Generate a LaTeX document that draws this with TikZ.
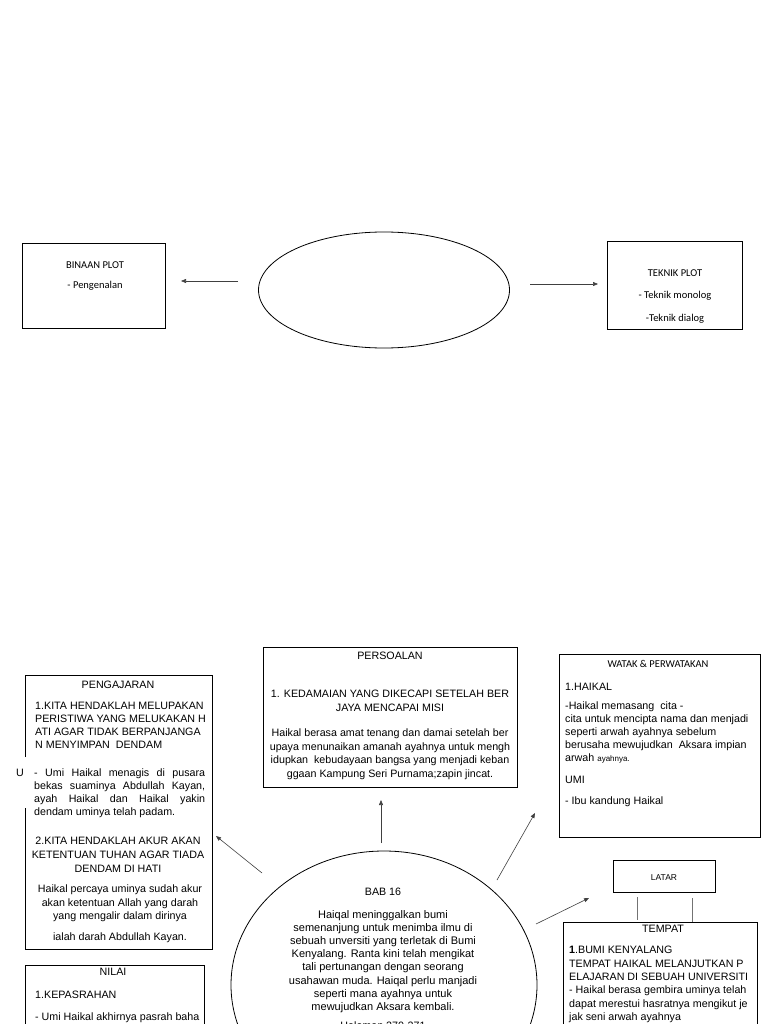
\documentclass[tikz,border=0pt]{standalone}
\usepackage{fontspec}
\setmainfont{Liberation Sans}
\newfontfamily\carl{Carlito}
\usetikzlibrary{arrows.meta,shapes.geometric}
\begin{document}
\begin{tikzpicture}[x=1pt,y=-1pt,
  box/.style={draw=black,line width=0.8pt},
  ar/.style={font=\fontsize{10.7}{13}\selectfont,inner sep=0pt},
  cb/.style={font=\carl\fontsize{10.5}{13}\selectfont,inner sep=0pt},
  conn/.style={draw=black!75,line width=0.6pt,-{Triangle[length=5pt,width=4pt]}},
  plain/.style={draw=black!55,line width=0.6pt}]
\clip (0,0) rectangle (768,1024);
\fill[white] (0,0) rectangle (768,1024);

% ---------- top part ----------
\node[box,minimum width=143pt,minimum height=85pt,anchor=north west] (binaan) at (22,243) {};
\node[cb,anchor=base] (binaanT) at (95,268.5) {BINAAN PLOT};
\node[cb,anchor=base] (binaanA) at (95,288.5) {- Pengenalan};

\node[draw,ellipse,line width=0.8pt,minimum width=251pt,minimum height=116pt] (top) at (384,290) {};

\node[box,minimum width=135pt,minimum height=88pt,anchor=north west] (teknik) at (607,241) {};
\node[cb,anchor=base] (teknikT) at (675,276.5) {TEKNIK PLOT};
\node[cb,anchor=base] (teknikA) at (675,298.5) {- Teknik monolog};
\node[cb,anchor=base] (teknikB) at (675,321.5) {-Teknik dialog};

\coordinate (l1) at (238,281);
\coordinate (l2) at (181,281);
\draw[conn] (l1) -- (l2);
\coordinate (r1) at (530,284);
\coordinate (r2) at (598,284);
\draw[conn] (r1) -- (r2);

% ---------- PENGAJARAN ----------
% (anchor=base of a multi-line node = baseline of its last line)
\draw[box] (25,757) -- (25,675) -- (212,675) -- (212,949) -- (25,949) -- (25,808);
\node[ar,anchor=base] (pgT) at (118,688.6) {PENGAJARAN};
\node[ar,anchor=base west,align=left] (pg1) at (35,748.6)
  {1.KITA HENDAKLAH MELUPAKAN\\PERISTIWA YANG MELUKAKAN H\\ATI AGAR TIDAK BERPANJANGA\\N MENYIMPAN\ \ DENDAM};
\node[ar,anchor=base west] (pgU) at (16,776.6) {U};
\node[ar,anchor=base west,align=left] (pg2) at (34,815.6)
  {\makebox[171pt][s]{- Umi Haikal menagis di pusara}\\
   \makebox[171pt][s]{bekas suaminya Abdullah Kayan,}\\
   \makebox[171pt][s]{ayah Haikal dan Haikal yakin}\\
   dendam uminya telah padam.};
\node[ar,anchor=base,align=center,font=\fontsize{10.7}{14}\selectfont] (pg3) at (118,872.6)
  {2.KITA HENDAKLAH AKUR AKAN\\KETENTUAN TUHAN AGAR TIADA\\DENDAM DI HATI};
\node[ar,anchor=base,align=center,font=\fontsize{10.7}{13.5}\selectfont] (pg4) at (120,919.5)
  {Haikal percaya uminya sudah akur\\akan ketentuan Allah yang darah\\yang mengalir dalam dirinya};
\node[ar,anchor=base] (pg5) at (120,940.5) {ialah darah Abdullah Kayan.};

% ---------- NILAI ----------
\node[box,minimum width=179pt,minimum height=80pt,anchor=north west] (nilai) at (25,965) {};
\node[ar,anchor=base] (nlT) at (113,975.6) {NILAI};
\node[ar,anchor=base west] (nl1) at (35,998.6) {1.KEPASRAHAN};
\node[ar,anchor=base west] (nl2) at (35,1020.5) {- Umi Haikal akhirnya pasrah baha};

% ---------- PERSOALAN ----------
\node[box,minimum width=254pt,minimum height=140pt,anchor=north west] (pers) at (263,647) {};
\node[ar,anchor=base] (psT) at (390,659.6) {PERSOALAN};
\node[ar,anchor=base,align=center,font=\fontsize{10.7}{14}\selectfont] (ps1) at (390,711.6)
  {1. KEDAMAIAN YANG DIKECAPI SETELAH BER\\JAYA MENCAPAI MISI};
\node[ar,anchor=base,align=center,font=\fontsize{10.7}{13.7}\selectfont] (ps2) at (390,777.6)
  {Haikal berasa amat tenang dan damai setelah ber\\upaya menunaikan amanah ayahnya untuk mengh\\idupkan\ \ kebudayaan bangsa yang menjadi keban\\ggaan Kampung Seri Purnama;zapin jincat.};

% ---------- WATAK ----------
\node[box,minimum width=201pt,minimum height=183pt,anchor=north west] (watak) at (559,654) {};
\node[cb,anchor=base] (wtT) at (658,667.5) {WATAK \& PERWATAKAN};
\node[ar,anchor=base west] (wt1) at (565,690.6) {1.HAIKAL};
\node[ar,anchor=base west,align=left] (wt2) at (565,761.5)
  {-Haikal memasang\ \ cita -\\cita untuk mencipta nama dan menjadi\\seperti arwah ayahnya sebelum\\berusaha mewujudkan\ \ Aksara impian\\arwah {\fontsize{8}{9}\selectfont ayahnya.}};
\node[ar,anchor=base west] (wt3) at (565,783.6) {UMI};
\node[ar,anchor=base west] (wt4) at (565,804.5) {- Ibu kandung Haikal};

% ---------- LATAR / TEMPAT ----------
\node[box,minimum width=102pt,minimum height=32pt,anchor=north west] (latar) at (613,860) {};
\node[ar,anchor=base,font=\fontsize{8.5}{10}\selectfont] (ltT) at (664,880) {LATAR};
\node[box,minimum width=194pt,minimum height=110pt,anchor=north west] (tempat) at (563,922) {};
\coordinate (la1) at (637,897);
\coordinate (lb1) at (637,920);
\coordinate (la2) at (692,898);
\coordinate (lb2) at (692,922);
\draw[plain] (la1) -- (lb1);
\draw[plain] (la2) -- (lb2);
\node[ar,anchor=base] (tpT) at (663,932.6) {TEMPAT};
\node[ar,anchor=base west,align=left,font=\fontsize{10.7}{13.4}\selectfont] (tp1) at (569,1020.6)
  {\textbf{1}.BUMI KENYALANG\\TEMPAT HAIKAL MELANJUTKAN P\\ELAJARAN DI SEBUAH UNIVERSITI\\- Haikal berasa gembira uminya telah\\dapat merestui hasratnya mengikut je\\jak seni arwah ayahnya};

% ---------- central ellipse ----------
\node[draw,ellipse,line width=0.8pt,minimum width=306pt,minimum height=268pt] (bab) at (384,985) {};
\node[ar,anchor=base] (bbT) at (383,895.6) {BAB 16};
\node[ar,anchor=base,align=center,font=\fontsize{11}{13.1}\selectfont] (bb1) at (383,1010.2)
  {Haiqal meninggalkan bumi\\semenanjung untuk menimba ilmu di\\sebuah unversiti yang terletak di Bumi\\Kenyalang. Ranta kini telah mengikat\\tali pertunangan dengan seorang\\usahawan muda. Haiqal perlu manjadi\\seperti mana ayahnya untuk\\mewujudkan Aksara kembali.};
\node[ar,anchor=base] (bb2) at (383,1029.5) {Halaman 270-271};

% ---------- connectors from central ellipse ----------
\coordinate (s1) at (262,873);
\coordinate (e1) at (216,836);
\draw[conn] (s1) -- (e1);
\coordinate (s2) at (381,843);
\coordinate (e2) at (381,800);
\draw[conn] (s2) -- (e2);
\coordinate (s3) at (497,880);
\coordinate (e3) at (535,813);
\draw[conn] (s3) -- (e3);
\coordinate (s4) at (536,924);
\coordinate (e4) at (589,898);
\draw[conn] (s4) -- (e4);
\end{tikzpicture}
\end{document}
